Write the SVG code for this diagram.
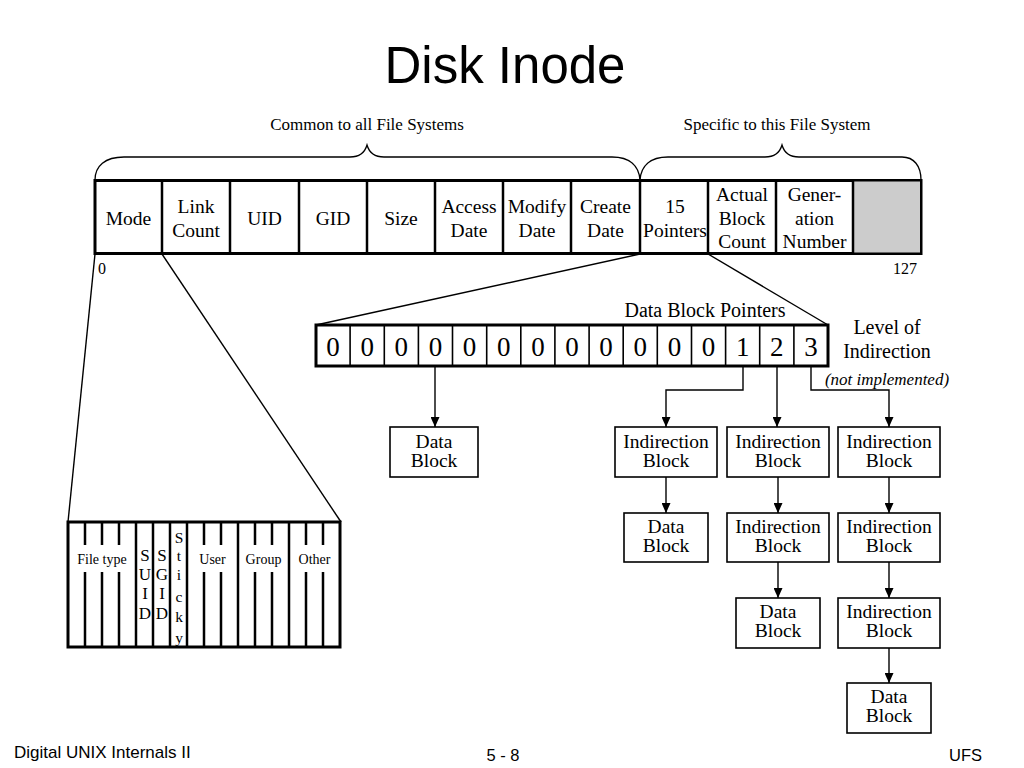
<svg xmlns="http://www.w3.org/2000/svg" width="1024" height="768" viewBox="0 0 1024 768">
<defs>
<marker id="ah" markerUnits="userSpaceOnUse" markerWidth="10" markerHeight="9" refX="10" refY="4.5" orient="auto">
<path d="M0,0 L10,4.5 L0,9 z" fill="#000"/>
</marker>
<style>
.t{font-family:"Liberation Serif","Times New Roman",serif;fill:#000;text-anchor:middle}
.c{font-size:19.5px}
.s{font-family:"Liberation Sans",Arial,sans-serif;fill:#000}
.box{fill:#fff;stroke:#000;stroke-width:1.6}
.thin{fill:none;stroke:#000;stroke-width:1.3}
.div{stroke:#000;stroke-width:2.5}
.con{fill:none;stroke:#000;stroke-width:1.4}
</style>
</defs>
<rect width="1024" height="768" fill="#fff"/>
<text class="s" x="505" y="83" font-size="51" text-anchor="middle">Disk Inode</text>

<g id="braces">
<text class="t" x="367" y="130" font-size="17">Common to all File Systems</text>
<text class="t" x="777" y="130" font-size="17">Specific to this File System</text>
<path class="thin" d="M95,180 C95,166 105,157 124,157 L350,157 C360,157 365,152 367,145 C369,152 374,157 384,157 L612,157 C630,157 639,166 640,180"/>
<path class="thin" d="M640,180 C641,166 650,157 668,157 L765,157 C775,157 780,152 782,145 C784,152 789,157 799,157 L902,157 C914,157 921,166 921,180"/>
</g>

<g id="inode">
<rect x="95" y="180.5" width="826" height="73" fill="#fff" stroke="#000" stroke-width="3"/>
<rect x="853" y="181.5" width="67" height="71" fill="#cccccc"/>
<g class="div">
<line x1="162" y1="180" x2="162" y2="254"/>
<line x1="230" y1="180" x2="230" y2="254"/>
<line x1="299" y1="180" x2="299" y2="254"/>
<line x1="367" y1="180" x2="367" y2="254"/>
<line x1="435" y1="180" x2="435" y2="254"/>
<line x1="503" y1="180" x2="503" y2="254"/>
<line x1="571" y1="180" x2="571" y2="254"/>
<line x1="640" y1="180" x2="640" y2="254"/>
<line x1="708" y1="180" x2="708" y2="254"/>
<line x1="776" y1="180" x2="776" y2="254"/>
<line x1="853" y1="180" x2="853" y2="254"/>
</g>
<g class="t c">
<text x="128.5" y="225">Mode</text>
<text x="196" y="213">Link</text><text x="196" y="237">Count</text>
<text x="264.5" y="225">UID</text>
<text x="333" y="225">GID</text>
<text x="401" y="225">Size</text>
<text x="469" y="213">Access</text><text x="469" y="237">Date</text>
<text x="537" y="213">Modify</text><text x="537" y="237">Date</text>
<text x="605.5" y="213">Create</text><text x="605.5" y="237">Date</text>
<text x="675" y="213">15</text><text x="675" y="237">Pointers</text>
<text x="742" y="201">Actual</text><text x="742" y="225">Block</text><text x="742" y="248">Count</text>
<text x="814.5" y="201">Gener-</text><text x="814.5" y="225">ation</text><text x="814.5" y="248">Number</text>
</g>
<text class="t" x="98" y="274" font-size="16" style="text-anchor:start">0</text>
<text class="t" x="917" y="274" font-size="16" style="text-anchor:end">127</text>
</g>

<g id="mode-bits">
<rect x="68" y="522" width="272" height="125" fill="#fff" stroke="#000" stroke-width="3"/>
<g class="div">
<line x1="136" y1="522" x2="136" y2="647"/>
<line x1="153" y1="522" x2="153" y2="647"/>
<line x1="170" y1="522" x2="170" y2="647"/>
<line x1="187" y1="522" x2="187" y2="647"/>
<line x1="238" y1="522" x2="238" y2="647"/>
<line x1="289" y1="522" x2="289" y2="647"/>
<path d="M85,522 V545 M85,572 V647 M102,522 V545 M102,572 V647 M119,522 V545 M119,572 V647 M204,522 V545 M204,572 V647 M221,522 V545 M221,572 V647 M255,522 V545 M255,572 V647 M272,522 V545 M272,572 V647 M306,522 V545 M306,572 V647 M323,522 V545 M323,572 V647"/>
</g>
<g class="t" font-size="14">
<text x="102" y="564">File type</text>
<text x="212.5" y="564">User</text>
<text x="263.5" y="564">Group</text>
<text x="314.5" y="564">Other</text>
</g>
<g class="t" font-size="17">
<text x="145" y="561">S</text><text x="145" y="580">U</text><text x="145" y="599">I</text><text x="145" y="619">D</text>
<text x="162" y="561">S</text><text x="162" y="580">G</text><text x="162" y="599">I</text><text x="162" y="619">D</text>
</g>
<g class="t" font-size="15.5">
<text x="179" y="543">S</text><text x="179" y="561">t</text><text x="179" y="580">i</text><text x="179" y="602">c</text><text x="179" y="622">k</text><text x="179" y="643">y</text>
</g>
</g>

<g id="pointers">
<text class="t" x="705" y="317" font-size="20">Data Block Pointers</text>
<rect x="316" y="325" width="512" height="41" fill="#fff" stroke="#000" stroke-width="3"/>
<path stroke="#000" stroke-width="1.6" d="M350.1,325V366 M384.3,325V366 M418.4,325V366 M452.5,325V366 M486.7,325V366 M520.8,325V366 M554.9,325V366 M589.1,325V366 M623.2,325V366 M657.3,325V366 M691.5,325V366 M725.6,325V366 M759.7,325V366 M793.9,325V366"/>
<g class="t" font-size="27">
<text x="333.1" y="356">0</text><text x="367.2" y="356">0</text><text x="401.3" y="356">0</text><text x="435.5" y="356">0</text><text x="469.6" y="356">0</text><text x="503.7" y="356">0</text><text x="537.9" y="356">0</text><text x="572" y="356">0</text><text x="606.1" y="356">0</text><text x="640.3" y="356">0</text><text x="674.4" y="356">0</text><text x="708.5" y="356">0</text><text x="742.7" y="356">1</text><text x="776.8" y="356">2</text><text x="810.9" y="356">3</text>
</g>
<text class="t" x="887" y="334" font-size="20">Level of</text>
<text class="t" x="887" y="358" font-size="20">Indirection</text>
<text class="t" x="887" y="385" font-size="17" font-style="italic">(not implemented)</text>
</g>

<g id="db0"><rect class="box" x="390" y="427" width="88" height="50"/><text class="t c" x="434" y="448">Data</text><text class="t c" x="434" y="467">Block</text></g>
<g id="ib1a"><rect class="box" x="615" y="427" width="102" height="50"/><text class="t c" x="666" y="448">Indirection</text><text class="t c" x="666" y="467">Block</text></g>
<g id="db1"><rect class="box" x="624" y="513" width="84" height="49"/><text class="t c" x="666" y="533">Data</text><text class="t c" x="666" y="552">Block</text></g>
<g id="ib2a"><rect class="box" x="727" y="427" width="102" height="50"/><text class="t c" x="778" y="448">Indirection</text><text class="t c" x="778" y="467">Block</text></g>
<g id="ib2b"><rect class="box" x="727" y="513" width="102" height="49"/><text class="t c" x="778" y="533">Indirection</text><text class="t c" x="778" y="552">Block</text></g>
<g id="db2"><rect class="box" x="736" y="598" width="84" height="50"/><text class="t c" x="778" y="618">Data</text><text class="t c" x="778" y="637">Block</text></g>
<g id="ib3a"><rect class="box" x="838" y="427" width="102" height="50"/><text class="t c" x="889" y="448">Indirection</text><text class="t c" x="889" y="467">Block</text></g>
<g id="ib3b"><rect class="box" x="838" y="513" width="102" height="49"/><text class="t c" x="889" y="533">Indirection</text><text class="t c" x="889" y="552">Block</text></g>
<g id="ib3c"><rect class="box" x="838" y="598" width="102" height="50"/><text class="t c" x="889" y="618">Indirection</text><text class="t c" x="889" y="637">Block</text></g>
<g id="db3"><rect class="box" x="847" y="683" width="84" height="50"/><text class="t c" x="889" y="703">Data</text><text class="t c" x="889" y="722">Block</text></g>

<g id="connectors">
<g class="con">
<line x1="95" y1="254" x2="68" y2="522"/>
<line x1="162" y1="254" x2="341" y2="522"/>
<line x1="640" y1="254" x2="316" y2="325"/>
<line x1="708" y1="254" x2="828" y2="325"/>
</g>
<g class="con" marker-end="url(#ah)">
<path d="M435,366 V427"/>
<path d="M743,366 V390 H666 V427"/>
<path d="M777,366 V427"/>
<path d="M811,366 V390 H889 V427"/>
<path d="M666,477 V513"/>
<path d="M778,477 V513"/>
<path d="M778,562 V598"/>
<path d="M889,477 V513"/>
<path d="M889,562 V598"/>
<path d="M889,648 V683"/>
</g>
</g>

<g id="footer">
<text class="s" x="14" y="758" font-size="17">Digital UNIX Internals II</text>
<text class="s" x="503" y="761" font-size="16.5" text-anchor="middle">5 - 8</text>
<text class="s" x="982" y="761" font-size="16.5" text-anchor="end">UFS</text>
</g>
</svg>
